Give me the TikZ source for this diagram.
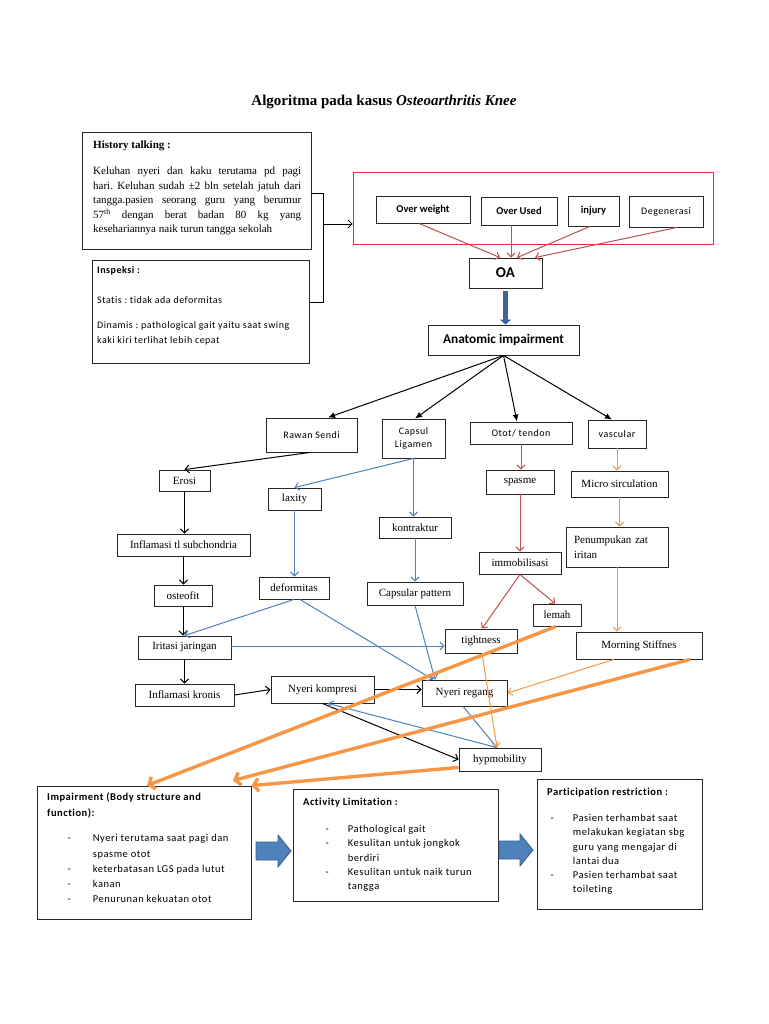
\documentclass[tikz,border=0pt]{standalone}
\usepackage{fontspec}
\setmainfont{Liberation Serif}
\newfontfamily\calib[Ligatures=NoCommon]{Carlito}
\newfontfamily\calsp[LetterSpace=5,Ligatures=NoCommon]{Carlito}
\usetikzlibrary{arrows.meta}
\definecolor{bl}{RGB}{79,129,189}
\definecolor{rd}{RGB}{192,80,77}
\definecolor{og}{RGB}{247,150,70}
\definecolor{rbox}{RGB}{226,48,48}
\definecolor{barfill}{RGB}{79,129,189}
\definecolor{bardraw}{RGB}{56,93,138}
\definecolor{oablue}{RGB}{62,98,160}
\frenchspacing
\begin{document}
\begin{tikzpicture}[x=1pt,y=-1pt,
 box/.style={draw=black!85,line width=0.9pt,inner sep=0pt,align=center},
 ser/.style={font=\fontsize{11}{13}\selectfont},
 cal/.style={font=\calsp\fontsize{10}{13.5}\selectfont},
 calb/.style={font=\calib\bfseries\fontsize{10.5}{12}\selectfont},
 txt/.style={inner sep=0pt},
 blk/.style={draw=black,line width=1pt,-{Straight Barb[length=4pt,width=8pt]}},
 blkt/.style={draw=black,line width=1pt,-{Latex[length=7pt,width=6pt]}},
 blu/.style={draw=bl,line width=1pt,-{Straight Barb[length=4pt,width=8pt]}},
 rdl/.style={draw=rd,line width=1pt,-{Straight Barb[length=4pt,width=8pt]}},
 ogl/.style={draw=og,line width=1pt,-{Straight Barb[length=4pt,width=8pt]}},
 ogt/.style={draw=og,line width=3.4pt,-{Straight Barb[length=5pt,width=13pt]}},
]
\fill[white] (0,0) rectangle (768,1024);
\useasboundingbox (0,0) rectangle (768,1024);

% title
\node[txt,font=\bfseries\fontsize{15}{18}\selectfont] (title) at (384,102) {Algoritma pada kasus \textit{Osteoarthritis Knee}};

% history
\node[box,minimum width=229pt,minimum height=117pt] (hist) at (196.5,190.5) {};
\node[txt,anchor=west,font=\bfseries\fontsize{11}{12}\selectfont] (histh) at (93,146) {History talking :};
\node[txt,anchor=north west,text width=208pt,align=justify,font=\fontsize{11}{14.5}\selectfont] (histb) at (93,167) {Keluhan nyeri dan kaku terutama pd pagi\linebreak hari. Keluhan sudah ±2 bln setelah jatuh dari\linebreak tangga.pasien seorang guru yang berumur\linebreak 57\textsuperscript{th} dengan berat badan 80 kg yang\linebreak kesehariannya naik turun tangga sekolah};

% inspeksi
\node[box,minimum width=217pt,minimum height=103pt] (insp) at (200.5,311.5) {};
\node[txt,anchor=west,font=\calsp\bfseries\fontsize{10}{12}\selectfont] (insph) at (97,271) {Inspeksi :};
\node[txt,anchor=west,font=\calsp\fontsize{10}{12}\selectfont] (insp1) at (97,300) {Statis : tidak ada deformitas};
\node[txt,anchor=west,align=left,font=\calsp\fontsize{10}{15}\selectfont] (insp2) at (97,333.5) {Dinamis : pathological gait yaitu saat swing\\kaki kiri terlihat lebih cepat};

% red box and causes
\node[draw=rbox,line width=0.9pt,minimum width=360pt,minimum height=72pt,inner sep=0pt] (redbox) at (533,208) {};
\node[box,calb,minimum width=94pt,minimum height=27pt] (ow) at (423,209.5) {Over weight};
\node[box,calb,minimum width=76pt,minimum height=28pt] (ou) at (519,211) {Over Used};
\node[box,calb,minimum width=51pt,minimum height=30pt] (inj) at (593.5,211) {injury};
\node[box,cal,minimum width=74pt,minimum height=31pt] (deg) at (666,211.5) {Degenerasi};
\node[box,minimum width=73pt,minimum height=30pt,font=\calib\bfseries\fontsize{15}{16}\selectfont] (oa) at (505.5,273) {OA};
\node[box,minimum width=151pt,minimum height=30pt,font=\calib\bfseries\fontsize{13.3}{14}\selectfont] (anat) at (503.5,340) {Anatomic impairment};

% history connectors
\coordinate (hc1) at (323,193);
\coordinate (hc2) at (323,302);
\coordinate (hc3) at (323,224);
\draw[black,line width=0.9pt] (hc1 -| hist.east) -- (hc1) -- (hc2) -- (hc2 -| insp.east);
\draw[blk,line width=0.9pt] (hc3) -- (hc3 -| redbox.west);

% second row
\node[box,cal,minimum width=91pt,minimum height=34pt] (rawan) at (311.5,435) {Rawan Sendi};
\node[box,cal,minimum width=63pt,minimum height=39pt] (caps) at (413.5,438.5) {Capsul\\Ligamen};
\node[box,cal,minimum width=102pt,minimum height=22pt] (otot) at (521,433) {Otot/ tendon};
\node[box,cal,minimum width=58pt,minimum height=28pt] (vasc) at (617,434) {vascular};

% serif nodes
\node[box,ser,minimum width=51pt,minimum height=21pt] (erosi) at (184.5,480.5) {Erosi};
\node[box,ser,minimum width=53pt,minimum height=22pt] (laxity) at (294.5,499) {laxity};
\node[box,ser,minimum width=72pt,minimum height=21pt] (kontr) at (415,527.5) {kontraktur};
\node[box,ser,minimum width=68pt,minimum height=24pt] (spasme) at (520,482) {spasme};
\node[box,ser,minimum width=97pt,minimum height=26pt] (micro) at (619.5,484) {Micro sirculation};
\node[box,ser,minimum width=133pt,minimum height=22pt] (inflsub) at (183.5,545) {Inflamasi tl subchondria};
\node[box,minimum width=102pt,minimum height=40pt,align=left,text width=86pt,font=\fontsize{11}{15}\selectfont] (penum) at (617,547) {Penumpukan zat\\iritan};
\node[box,ser,minimum width=82pt,minimum height=22pt] (immob) at (520,563) {immobilisasi};
\node[box,ser,minimum width=58pt,minimum height=21pt] (osteo) at (183,595.5) {osteofit};
\node[box,ser,minimum width=70pt,minimum height=22pt] (deform) at (294,588) {deformitas};
\node[box,ser,minimum width=96pt,minimum height=23pt] (capspat) at (415,593.5) {Capsular pattern};
\node[box,ser,minimum width=48pt,minimum height=22pt] (lemah) at (557,615) {lemah};
\node[box,ser,minimum width=72pt,minimum height=24pt] (tight) at (481,641) {tightness};
\node[box,ser,minimum width=126pt,minimum height=27pt] (morn) at (639,645.5) {Morning Stiffnes};
\node[box,ser,minimum width=93pt,minimum height=23pt] (iritasi) at (184.5,647.5) {Iritasi jaringan};
\node[box,ser,minimum width=99pt,minimum height=22pt] (inflkr) at (184.5,695) {Inflamasi kronis};
\node[box,ser,minimum width=103pt,minimum height=27pt] (nkomp) at (322.5,689.5) {Nyeri kompresi};
\node[box,ser,minimum width=85pt,minimum height=26pt] (nreg) at (464.5,693) {Nyeri regang};
\node[box,ser,minimum width=82pt,minimum height=23pt] (hypm) at (500,759.5) {hypmobility};

% bottom boxes
\node[box,minimum width=214pt,minimum height=133pt] (impair) at (144,852.5) {};
\node[txt,anchor=west,align=left,font=\calsp\bfseries\fontsize{10.5}{16}\selectfont] (impairh) at (47,805) {Impairment (Body structure and\\function):};
\node[txt,anchor=north west,font=\calsp\fontsize{10.5}{15.2}\selectfont] (impairl) at (67.5,831) {\begin{tabular}{@{}l@{\hspace{22pt}}l@{}}-&Nyeri terutama saat pagi dan\\&spasme otot\\-&keterbatasan LGS pada lutut\\-&kanan\\-&Penurunan kekuatan otot\end{tabular}};

\node[box,minimum width=205pt,minimum height=112pt] (activ) at (395.5,845) {};
\node[txt,anchor=west,font=\calsp\bfseries\fontsize{10.5}{12}\selectfont] (activh) at (303,803) {Activity Limitation :};
\node[txt,anchor=north west,font=\calsp\fontsize{10.5}{14.2}\selectfont] (activl) at (325.5,822.6) {\begin{tabular}{@{}l@{\hspace{19pt}}l@{}}-&Pathological gait\\-&Kesulitan untuk jongkok\\&berdiri\\-&Kesulitan untuk naik turun\\&tangga\end{tabular}};

\node[box,minimum width=165pt,minimum height=130pt] (partic) at (619.5,844) {};
\node[txt,anchor=west,font=\calsp\bfseries\fontsize{10.5}{12}\selectfont] (partich) at (547,793) {Participation restriction :};
\node[txt,anchor=north west,font=\calsp\fontsize{10.5}{14.2}\selectfont] (particl) at (550.5,811.6) {\begin{tabular}{@{}l@{\hspace{19pt}}l@{}}-&Pasien terhambat saat\\&melakukan kegiatan sbg\\&guru yang mengajar di\\&lantai dua\\-&Pasien terhambat saat\\&toileting\end{tabular}};

% block arrows
\fill[barfill,draw=bardraw,line width=0.8pt] (256,842) -- (278,842) -- (278,835) -- (291,851) -- (278,867) -- (278,860) -- (256,860) -- cycle;
\fill[barfill,draw=bardraw,line width=0.8pt] (499,841) -- (520,841) -- (520,834) -- (533,850) -- (520,866) -- (520,859) -- (499,859) -- cycle;

% red causes -> OA
\draw[rdl] ([xshift=-4pt]ow.south) -- ([xshift=-5.5pt]oa.north);
\draw[rdl] ([xshift=-8pt]ou.south) -- ([xshift=5.5pt]oa.north);
\draw[rdl] ([xshift=-3.5pt]inj.south) -- ([xshift=11.5pt]oa.north);
\draw[rdl] ([xshift=11pt]deg.south) -- ([xshift=29.5pt]oa.north);

% OA -> anatomic
\draw[draw=oablue,line width=5pt,-{Triangle[length=5pt,width=11pt]}] ([yshift=-3pt]oa.south) -- (oa.south |- anat.north);

% anatomic -> row 2
\draw[blkt] (anat.south) -- ([xshift=16.5pt]rawan.north);
\draw[blkt] (anat.south) -- ([xshift=1.5pt]caps.north);
\draw[blkt] (anat.south) -- ([xshift=-4pt]otot.north);
\draw[blkt] (anat.south) -- ([xshift=-5pt]vasc.north);

% black chain
\draw[blk] ([xshift=-1.5pt]rawan.south) -- (erosi.north);
\draw[blk] (erosi.south) -- (erosi.south |- inflsub.north);
\draw[blk] (inflsub.south) -- (inflsub.south |- osteo.north);
\draw[blk] (osteo.south) -- (osteo.south |- iritasi.north);
\draw[blk] (iritasi.south) -- (iritasi.south |- inflkr.north);
\draw[blk] (inflkr.east) -- (nkomp.west);
\draw[blk] (nkomp.east) -- (nkomp.east -| nreg.west);
\draw[blk] (nkomp.south) -- (hypm.west);

% blue
\draw[blu] (caps.south) -- (laxity.north);
\draw[blu] (caps.south) -- (caps.south |- kontr.north);
\draw[blu] (laxity.south) -- (laxity.south |- deform.north);
\draw[blu] (kontr.south) -- (kontr.south |- capspat.north);
\draw[blu] (deform.south) -- (iritasi.north);
\draw[blu] ([xshift=6pt]deform.south) -- ([xshift=-31.5pt]nreg.north);
\draw[blu] (capspat.south) -- ([xshift=-29.5pt]nreg.north);
\draw[blu] ([yshift=1.5pt]iritasi.east) -- ([yshift=1.5pt]iritasi.east -| tight.west);
\draw[blu] ([xshift=-1.5pt]nreg.south) -- ([xshift=-3pt]hypm.north);
\draw[blu] ([xshift=-3pt]hypm.north) -- ([xshift=5.5pt]nkomp.south);

% red
\draw[rdl] (otot.south) -- (otot.south |- spasme.north);
\draw[rdl] (spasme.south) -- (immob.north);
\draw[rdl] (immob.south) -- ([xshift=1pt]tight.north);
\draw[rdl] (immob.south) -- ([xshift=-2pt]lemah.north);

% orange thin
\draw[ogl] (vasc.south) -- (vasc.south |- micro.north);
\draw[ogl] (micro.south) -- (micro.south |- penum.north);
\draw[ogl] (penum.south) -- (penum.south |- morn.north);
\draw[ogl] ([xshift=-25pt]morn.south) -- (nreg.east);
\draw[ogl] ([xshift=1pt]tight.south) -- ([xshift=-3pt]hypm.north);

% orange thick
\draw[ogt] ([xshift=-1pt]lemah.south) -- ([xshift=3pt]impair.north);
\draw[ogt] ([xshift=51pt]morn.south) -- ([xshift=89pt,yshift=5pt]impair.north);
\draw[ogt] ([yshift=4pt]hypm.south west) -- (impair.north east);
\end{tikzpicture}
\end{document}
